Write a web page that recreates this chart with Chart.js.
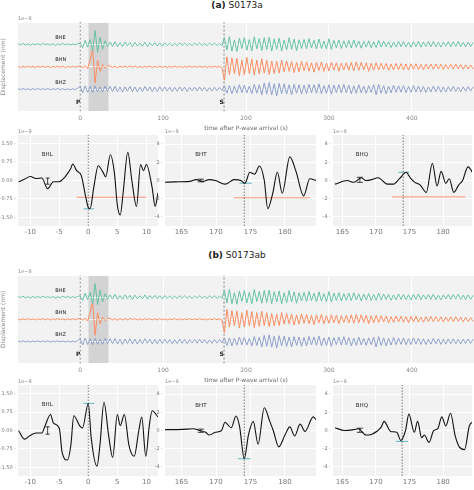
<!DOCTYPE html>
<html>
<head>
<meta charset="utf-8">
<script src="https://cdn.jsdelivr.net/npm/chart.js@4.4.0/dist/chart.umd.min.js"></script>
<style>
  body { margin: 0; background: #fff; width: 474px; height: 490px; position: relative; overflow: hidden; font-family: "DejaVu Sans", sans-serif; }
  canvas { position: absolute; }
  .title { position: absolute; width: 474px; text-align: center; font-size: 9px; color: #222; }
</style>
</head>
<body>
<div class="title" style="top:0px"><b>(a)</b> S0173a</div>
<div class="title" style="top:250px"><b>(b)</b> S0173ab</div>
<canvas id="topA" style="left:0;top:16px" width="474" height="116"></canvas>
<canvas id="bhlA" style="left:0;top:128px" width="160" height="112"></canvas>
<canvas id="bhtA" style="left:150px;top:128px" width="168" height="112"></canvas>
<canvas id="bhqA" style="left:318px;top:128px" width="156" height="112"></canvas>
<canvas id="topB" style="left:0;top:269px" width="474" height="115"></canvas>
<canvas id="bhlB" style="left:0;top:378px" width="160" height="112"></canvas>
<canvas id="bhtB" style="left:150px;top:378px" width="168" height="112"></canvas>
<canvas id="bhqB" style="left:318px;top:378px" width="156" height="112"></canvas>
<script>
// time axis of the three-component records (s after P, every 3 s)
const tStart = -75, tStep = 3;
const topTicks = [0, 100, 200, 300, 400];
const shadeWin = [10, 34];
const pTime = 0, sTime = 173.5;

const bheVals = [
  0.03,-0.02,0.04,-0.03,0.02,-0.04,0.03,-0.02,0.03,-0.03,
  0.04,-0.02,0.02,-0.03,0.03,-0.04,0.02,-0.03,0.04,-0.02,
  0.03,-0.03,0.02,-0.02,0.03,
  0.06,-0.14,0.18,-0.12,
  0.22,-0.3,0.62,-0.35,0.32,-0.22,0.16,-0.1,
  0.1,-0.08,0.12,-0.1,0.07,-0.09,0.1,-0.06,0.08,-0.1,
  0.09,-0.07,0.06,-0.08,0.1,-0.09,0.07,-0.06,0.08,-0.07,
  0.06,-0.08,0.07,-0.05,0.06,-0.07,0.05,-0.06,0.07,-0.05,
  0.06,-0.05,0.04,-0.06,0.05,-0.04,0.06,-0.05,0.04,-0.05,
  0.05,-0.04,0.06,-0.05,0.04,-0.05,
  0.3,-0.25,0.35,-0.3,0.2,-0.32,0.28,-0.18,0.3,-0.26,
  0.22,-0.3,0.34,-0.2,0.26,-0.28,0.3,-0.24,0.32,-0.3,
  0.25,-0.22,0.28,-0.3,0.2,-0.25,0.3,-0.22,0.24,-0.28,
  0.2,-0.18,0.22,-0.2,0.26,-0.16,0.18,-0.2,0.24,-0.18,
  0.15,-0.2,0.25,-0.22,0.18,-0.15,0.2,-0.18,0.16,-0.14,
  0.18,-0.16,0.2,-0.13,0.15,-0.17,0.14,-0.12,0.16,-0.15,
  0.12,-0.14,0.18,-0.12,0.14,-0.1,0.12,-0.14,0.1,-0.12,
  0.14,-0.1,0.12,-0.11,0.1,-0.13,0.12,-0.1,0.14,-0.12,
  0.1,-0.09,0.12,-0.1,0.13,-0.11,0.09,-0.12,0.1,-0.08,
  0.12,-0.1,0.11,-0.09,0.13,-0.1,0.09,-0.11,0.1,-0.09,
  0.08
];
const bhnVals = [
  0.02,-0.03,0.02,-0.02,0.03,-0.02,0.02,-0.03,0.02,-0.02,
  0.03,-0.02,0.02,-0.03,0.02,-0.02,0.03,-0.02,0.02,-0.03,
  0.02,-0.02,0.03,-0.02,0.02,
  0.03,-0.04,0.05,-0.08,
  0.3,0.78,-0.72,0.3,-0.2,0.1,-0.06,0.04,
  0.04,-0.03,0.03,-0.04,0.03,-0.02,0.03,-0.03,0.04,-0.02,
  0.03,-0.03,0.02,-0.03,0.03,-0.02,0.03,-0.03,0.02,-0.02,
  0.03,-0.02,0.02,-0.03,0.02,-0.02,0.03,-0.02,0.02,-0.03,
  0.02,-0.02,0.03,-0.02,0.02,-0.02,0.03,-0.02,0.02,-0.03,
  0.02,-0.02,0.03,-0.02,0.02,-0.03,
  -0.6,0.45,-0.35,0.4,-0.3,0.38,-0.4,0.3,-0.35,0.42,
  -0.3,0.35,-0.38,0.3,-0.32,0.36,-0.28,0.3,-0.34,0.26,
  -0.3,0.24,-0.28,0.3,-0.22,0.26,-0.2,0.24,-0.26,0.2,
  -0.22,0.25,-0.18,0.22,-0.2,0.18,-0.24,0.2,-0.16,0.22,
  -0.2,0.16,-0.18,0.2,-0.15,0.18,-0.2,0.16,-0.14,0.18,
  -0.16,0.2,-0.18,0.22,-0.16,0.2,-0.14,0.18,-0.2,0.16,
  -0.15,0.18,-0.14,0.16,-0.12,0.15,-0.16,0.12,-0.14,0.15,
  -0.12,0.14,-0.13,0.12,-0.15,0.13,-0.11,0.14,-0.12,0.1,
  -0.13,0.12,-0.1,0.13,-0.11,0.12,-0.1,0.11,-0.12,0.1,
  -0.09,0.11,-0.1,0.12,-0.09,0.1,-0.11,0.09,-0.1,0.08,
  -0.09
];
const bhzVals = [
  0.02,-0.02,0.03,-0.02,0.02,-0.03,0.02,-0.02,0.03,-0.02,
  0.02,-0.02,0.03,-0.03,0.02,-0.02,0.03,-0.02,0.02,-0.03,
  0.02,-0.03,0.02,-0.02,0.04,
  0.12,-0.16,0.15,-0.14,
  0.12,-0.15,0.14,-0.12,0.1,-0.13,0.14,-0.1,
  0.12,-0.1,0.13,-0.12,0.1,-0.13,0.11,-0.09,0.12,-0.11,
  0.1,-0.12,0.09,-0.1,0.12,-0.08,0.1,-0.11,0.09,-0.1,
  0.11,-0.09,0.1,-0.08,0.09,-0.1,0.08,-0.09,0.1,-0.08,
  0.09,-0.1,0.08,-0.07,0.09,-0.08,0.1,-0.07,0.08,-0.09,
  0.07,-0.08,0.09,-0.07,0.08,-0.06,
  0.15,-0.18,0.16,-0.2,0.14,-0.17,0.2,-0.15,0.18,-0.16,
  0.14,-0.2,0.22,-0.18,0.2,-0.25,0.28,-0.22,0.3,-0.26,
  0.24,-0.3,0.26,-0.2,0.24,-0.22,0.2,-0.25,0.22,-0.18,
  0.2,-0.22,0.18,-0.2,0.22,-0.16,0.2,-0.18,0.24,-0.2,
  0.16,-0.18,0.2,-0.22,0.18,-0.15,0.2,-0.17,0.22,-0.16,
  0.18,-0.2,0.15,-0.18,0.2,-0.16,0.14,-0.18,0.16,-0.14,
  0.2,-0.25,0.22,-0.18,0.16,-0.2,0.14,-0.16,0.18,-0.14,
  0.15,-0.13,0.16,-0.15,0.12,-0.14,0.16,-0.12,0.14,-0.13,
  0.12,-0.14,0.1,-0.12,0.14,-0.11,0.12,-0.13,0.1,-0.12,
  0.11,-0.1,0.12,-0.1,0.09,-0.11,0.1,-0.09,0.11,-0.08,
  0.1
];

// zoomed windows (units 1e-9)
const bhlTicksX = [-10, -5, 0, 5, 10];
const bhlTicksY = [-1.5, -0.75, 0, 0.75, 1.5];
const sTicksX = [165, 170, 175, 180];
const sTicksY = [-4, -2, 0, 2, 4];

const bhlA_t = [-12,-11,-10,-9,-8,-7,-6,-5,-4,-3,-2.7,-2,-1.2,-0.5,0,0.3,1,1.7,2.5,3,3.8,4.5,5,5.5,6,6.8,7.5,8.3,9,9.5,10,11,11.5,12];
const bhlA_v = [-0.05,0.05,0.16,0.08,0.1,-0.33,-0.05,-0.05,0.15,0.5,0.67,0.4,0.2,-0.6,-1.1,-1.15,-0.2,0.6,0.35,0.15,1.05,0.3,-1.0,-1.4,-0.5,1.15,0.0,-1.05,0.65,0.4,0.65,-0.3,-1.05,-0.5];
const bhtA_t = [162.6,164,166.2,167.1,168.1,169,169.9,171.3,171.7,172.6,173.6,174.2,174.9,175.6,176.3,177,177.5,178.2,178.9,179.6,180.7,181.6,182.7,183.6,184.5];
const bhtA_v = [-0.2,-0.15,-0.1,0.1,-0.1,0.1,0,-0.4,-0.3,0.1,0,-0.3,0.9,0.7,1.6,0,-3.1,-1.5,0.9,-1.4,2.6,1.0,-1.7,0.2,0];
const bhqA_t = [163.9,165.7,166.7,167.8,168.5,169.4,170.3,171.7,172.6,173.5,174.5,175.1,175.8,176.6,177.5,178.4,179.1,179.7,180.4,180.9,181.6,182.3,182.9,183.7,184.6];
const bhqA_v = [-0.4,0,-0.2,0.3,0,0.1,0.3,-0.4,-0.4,0.2,0.9,0.3,-0.2,-0.5,-1.3,1.9,-0.6,1.0,-0.3,0.2,-1.3,-0.5,0,1.5,0.6];

const bhlB_t = [-12,-11,-10,-9,-8,-7.5,-6.5,-6,-5,-4.5,-3.6,-3,-2.5,-1.5,-1,0,0.5,1.5,2,2.7,3.5,4.2,5,5.5,6.2,7,7.9,8.7,9.2,9.9,10.5,11,12];
const bhlB_v = [0,-0.35,-0.2,-0.1,-0.1,0.15,0.65,0.3,0.1,-0.9,-1.2,-0.6,0.6,0.2,0.1,1.1,-0.3,-1.45,-0.6,1.15,-0.2,-1.1,0.65,0.2,0.65,-0.6,-1.05,0,0.55,-1.05,0.2,0.8,0.55];
const bhtB_t = [162.6,164,165.8,166.7,167.6,168.5,169,169.9,170.8,171.3,172.2,172.9,173.4,174.1,174.7,175.4,176.1,177,177.8,178.3,179.1,180,180.7,181.4,182.2,182.9,184.1,184.5];
const bhtB_v = [0.1,0.1,0.15,0.2,0,-0.2,-0.5,-0.2,0,0.9,0.3,1.6,0.5,-3.1,-0.5,1.0,-1.5,2.5,1.0,0,-1.8,-0.5,0.4,-0.6,0.7,-0.1,1.5,1.2];
const bhqB_t = [163.9,165.3,166.7,167.4,168.5,169.4,170.8,171.2,172.2,173.1,173.7,174.4,174.9,175.7,176.2,176.8,177.2,177.9,178.6,179.2,179.8,180.4,181.1,181.8,182.4,183.2,183.9,184.6];
const bhqB_v = [0.3,0,0.1,0.2,-0.5,-0.4,0.4,1.0,-0.1,-0.2,-1.1,0,1.8,-0.2,1.0,-0.8,-0.5,-1.3,0,0.2,1.5,0.5,1.9,-0.6,-1.8,-2.1,0.5,1.0];

const GREEN = '#66c2a5', ORANGE = '#fc8d62', BLUE = '#8da0cb', CYAN = '#5fb8c2';
const tickFont = { family: 'DejaVu Sans', size: 6 };
Chart.defaults.animation = false;
Chart.defaults.color = '#777';

// background, shading and free text for each panel
const decor = {
  id: 'decor',
  beforeDraw(chart, args, opts) {
    const { ctx, chartArea: a, scales } = chart;
    ctx.save();
    ctx.fillStyle = '#f2f2f2';
    ctx.fillRect(a.left, a.top, a.right - a.left, a.bottom - a.top);
    if (opts.shade) {
      const x0 = scales.x.getPixelForValue(opts.shade[0]);
      const x1 = scales.x.getPixelForValue(opts.shade[1]);
      ctx.fillStyle = '#d3d3d3';
      ctx.fillRect(x0, a.top, x1 - x0, a.bottom - a.top);
    }
    ctx.restore();
  },
  afterDraw(chart, args, opts) {
    const { ctx, chartArea: a, scales } = chart;
    ctx.save();
    ctx.font = '5px DejaVu Sans';
    ctx.fillStyle = '#888';
    ctx.textBaseline = 'bottom';
    ctx.fillText(opts.exp, a.left, a.top - 1);
    (opts.labels || []).forEach(l => {
      ctx.font = (l.bold ? 'bold ' : '') + l.size + 'px DejaVu Sans';
      ctx.fillStyle = '#222';
      ctx.textBaseline = 'middle';
      ctx.textAlign = 'left';
      ctx.fillText(l.text, scales.x.getPixelForValue(l.x), scales.y.getPixelForValue(l.y));
    });
    ctx.restore();
  }
};

function seg(x0, y0, x1, y1, color, dash, width) {
  return { data: [{ x: x0, y: y0 }, { x: x1, y: y1 }], borderColor: color, borderWidth: width || 1,
           borderDash: dash || [], pointRadius: 0, tension: 0 };
}

function makeTop(id) {
  const traces = [[bheVals, GREEN, 1], [bhnVals, ORANGE, 0], [bhzVals, BLUE, -1]];
  const datasets = traces.map(([vals, color, off]) => ({
    data: vals.map((v, i) => ({ x: tStart + i * tStep, y: v + off })),
    borderColor: color, borderWidth: 1, pointRadius: 0, tension: 0
  }));
  datasets.push(seg(pTime, -2, pTime, 2, '#555', [2, 2], 0.7));
  datasets.push(seg(sTime, -2, sTime, 2, '#555', [2, 2], 0.7));
  new Chart(document.getElementById(id), {
    type: 'line',
    data: { datasets },
    plugins: [decor],
    options: {
      responsive: false,
      layout: { padding: { top: 6, right: 0 } },
      plugins: {
        legend: { display: false }, tooltip: { enabled: false },
        decor: {
          exp: '1e\u22128', shade: shadeWin,
          labels: [
            { text: 'BHE', x: -30, y: 1.3, size: 5 },
            { text: 'BHN', x: -30, y: 0.3, size: 5 },
            { text: 'BHZ', x: -30, y: -0.7, size: 5 },
            { text: 'P', x: -5, y: -1.6, size: 6, bold: true },
            { text: 'S', x: 168, y: -1.6, size: 6, bold: true }
          ]
        }
      },
      scales: {
        x: {
          type: 'linear', min: -75, max: 475,
          afterBuildTicks: s => { s.ticks = topTicks.map(v => ({ value: v })); },
          ticks: { font: tickFont, color: '#888', maxRotation: 0 },
          grid: { color: '#fff', lineWidth: 1, drawTicks: false },
          border: { display: false },
          title: { display: true, text: 'time after P-wave arrival (s)', font: tickFont, color: '#666', padding: 0 }
        },
        y: {
          min: -2, max: 2,
          ticks: { display: false },
          grid: { color: '#fff', drawTicks: false },
          border: { display: false },
          title: { display: true, text: 'Displacement (nm)', font: tickFont, color: '#888', padding: 0 },
          afterFit: s => { s.width = 18; }
        }
      }
    }
  });
}

function makeSmall(id, ts, vs, o) {
  const datasets = [{
    data: ts.map((t, i) => ({ x: t, y: vs[i] })),
    borderColor: '#111', borderWidth: 1.1, pointRadius: 0, tension: 0.4, cubicInterpolationMode: 'monotone'
  }];
  datasets.push(seg(o.pick, -o.ymax, o.pick, o.ymax, '#444', [1.5, 1.5], 0.7));
  if (o.orange) datasets.push(seg(o.orange[0], o.orange[2], o.orange[1], o.orange[2], ORANGE, [], 0.9));
  datasets.push(seg(o.cyan[0], o.cyan[2], o.cyan[1], o.cyan[2], CYAN, [], 1));
  const [ex, e0, e1, ew] = o.err;
  datasets.push(seg(ex, e0, ex, e1, '#111', [], 0.8));
  datasets.push(seg(ex - ew, e0, ex + ew, e0, '#111', [], 0.8));
  datasets.push(seg(ex - ew, e1, ex + ew, e1, '#111', [], 0.8));
  new Chart(document.getElementById(id), {
    type: 'line',
    data: { datasets },
    plugins: [decor],
    options: {
      responsive: false,
      layout: { padding: { top: 7, right: 2 } },
      plugins: {
        legend: { display: false }, tooltip: { enabled: false },
        decor: { exp: '1e\u22129', labels: [{ text: o.name, x: o.lx, y: o.ly, size: 5.5 }] }
      },
      scales: {
        x: {
          type: 'linear', min: o.xmin, max: o.xmax,
          afterBuildTicks: s => { s.ticks = o.xt.map(v => ({ value: v })); },
          ticks: { font: { family: 'DejaVu Sans', size: 7 }, color: '#777', maxRotation: 0, padding: 2 },
          grid: { color: '#fff', drawTicks: false },
          border: { display: false },
          afterFit: s => { s.height = 14; }
        },
        y: {
          min: -o.ymax, max: o.ymax,
          afterBuildTicks: s => { s.ticks = o.yt.map(v => ({ value: v })); },
          ticks: { font: { family: 'DejaVu Sans', size: 5 }, color: '#777', padding: 2,
                   callback: v => o.fmt(v) + ' -' },
          grid: { color: '#fff', drawTicks: false },
          border: { display: false },
          afterFit: s => { s.width = o.yw; }
        }
      }
    }
  });
}

makeTop('topA');
makeTop('topB');

const fmt2 = v => v.toFixed(2), fmt0 = v => String(v);
makeSmall('bhlA', bhlA_t, bhlA_v, { name: 'BHL', lx: -8, ly: 1.05, xmin: -12.1, xmax: 12, ymax: 1.85, xt: bhlTicksX, yt: bhlTicksY, fmt: fmt2, yw: 18,
  pick: 0, orange: [-2, 10, -0.68], cyan: [-0.8, 1, -1.15], err: [-7, -0.15, 0.1, 0.35] });
makeSmall('bhtA', bhtA_t, bhtA_v, { name: 'BHT', lx: 167, ly: 2.8, xmin: 162.6, xmax: 184.5, ymax: 5, xt: sTicksX, yt: sTicksY, fmt: fmt0, yw: 15,
  pick: 174.1, orange: [172.6, 183.6, -1.9], cyan: [173.4, 175.2, -0.3], err: [167.8, -0.15, 0.15, 0.45] });
makeSmall('bhqA', bhqA_t, bhqA_v, { name: 'BHQ', lx: 167, ly: 2.8, xmin: 163.6, xmax: 184.3, ymax: 5, xt: sTicksX, yt: sTicksY, fmt: fmt0, yw: 15,
  pick: 174.05, orange: [172.4, 183.3, -1.8], cyan: [173.3, 175, 0.9], err: [167.6, -0.2, 0.35, 0.45] });

makeSmall('bhlB', bhlB_t, bhlB_v, { name: 'BHL', lx: -8, ly: 1.07, xmin: -12.1, xmax: 12, ymax: 1.85, xt: bhlTicksX, yt: bhlTicksY, fmt: fmt2, yw: 18,
  pick: 0, cyan: [-0.8, 1, 1.1], err: [-7, -0.15, 0.15, 0.35] });
makeSmall('bhtB', bhtB_t, bhtB_v, { name: 'BHT', lx: 167, ly: 2.7, xmin: 162.6, xmax: 184.5, ymax: 5, xt: sTicksX, yt: sTicksY, fmt: fmt0, yw: 15,
  pick: 174.1, cyan: [173.2, 175, -3.1], err: [167.8, -0.2, 0.15, 0.45] });
makeSmall('bhqB', bhqB_t, bhqB_v, { name: 'BHQ', lx: 167, ly: 2.7, xmin: 163.6, xmax: 184.3, ymax: 5, xt: sTicksX, yt: sTicksY, fmt: fmt0, yw: 15,
  pick: 173.9, cyan: [173, 174.8, -1.2], err: [167.6, -0.2, 0.25, 0.45] });
</script>
</body>
</html>
